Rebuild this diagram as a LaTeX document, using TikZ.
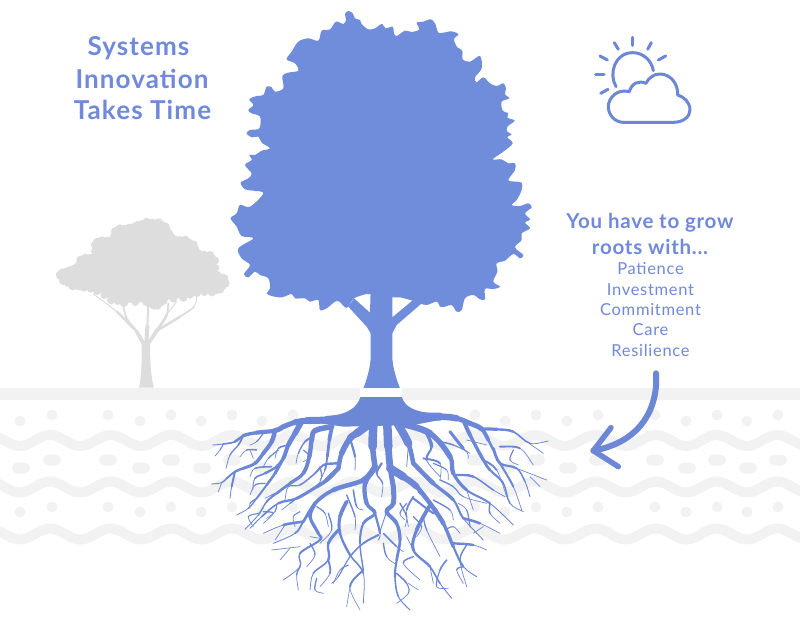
\documentclass[tikz,border=0pt]{standalone}
\usepackage{fontspec}
\setmainfont{Lato}
\newfontfamily\headfont[LetterSpace=4.2]{Lato}
\newfontfamily\subfont[LetterSpace=3.7]{Lato}
\newfontfamily\listfont[LetterSpace=4.2]{Lato}
\definecolor{bluet}{HTML}{6F8DDB}
\definecolor{blueroot}{HTML}{6C87D6}
\definecolor{bluetext}{HTML}{7089DB}
\definecolor{soil}{HTML}{F2F2F2}
\definecolor{greytree}{HTML}{DDDDDD}
\newcommand\tapseg[3]{%
  \draw[line width=#1pt] (\tax,\tay) .. controls ({\tax+(\tbx-\tzx)/6},{\tay+(\tby-\tzy)/6}) and ({\tbx-(#2-\tax)/6},{\tby-(#3-\tay)/6}) .. (\tbx,\tby);}
\newcommand\tap[3]{%
  \foreach \pp [count=\nn] in {#3} {\global\let\tapn\nn}%
  \foreach \xx/\yy [count=\ii] in {#3} {%
    \ifnum\ii=1
      \xdef\tax{\xx}\xdef\tay{\yy}\xdef\tzx{\xx}\xdef\tzy{\yy}%
    \else\ifnum\ii=2
      \xdef\tbx{\xx}\xdef\tby{\yy}%
    \else
      \pgfmathsetmacro\ww{#1+(#2-#1)*(\ii-3)/(\tapn-2)}%
      \tapseg{\ww}{\xx}{\yy}%
      \xdef\tzx{\tax}\xdef\tzy{\tay}\xdef\tax{\tbx}\xdef\tay{\tby}\xdef\tbx{\xx}\xdef\tby{\yy}%
    \fi\fi}%
  \tapseg{#2}{\tbx}{\tby}}
\tikzset{
  wave/.style={draw=soil,line width=10pt,line cap=butt},
  rootline/.style={draw=blueroot,line cap=round,line join=round},
  greyline/.style={draw=greytree,line cap=round,line join=round},
  icon/.style={draw=blueroot,line width=3pt,line cap=round,line join=round},
  headtext/.style={text=bluetext,font=\fontsize{26}{26}\selectfont\headfont\bfseries,anchor=center},
  subhead/.style={text=bluetext,font=\fontsize{20.5}{21}\selectfont\subfont\bfseries,anchor=center},
  listtext/.style={text=bluetext,font=\fontsize{16.5}{17}\selectfont\listfont,anchor=center}
}
\begin{document}
\begin{tikzpicture}[x=1pt,y=-1pt]
\useasboundingbox (0,0) rectangle (800,626);
\fill[white] (0,0) rectangle (800,626);
% soil
\fill[soil] (0,388) rectangle (800,400);
\foreach \yy in {440.5,487,534}{
  \draw[wave] plot[domain=-10:810,samples=160,smooth] (\x,{\yy-5.5*cos((\x-50)/60.6*360)});
}
\foreach \xx in {20,140,201,262,505,567,686,747}{
  \fill[soil] (\xx,421) circle (5.4);
  \fill[soil] (\xx,512) circle (5.4);
  \fill[soil,rounded corners=5.5pt] (\xx-8,462.5) rectangle (\xx+10,473.5);
}
\foreach \xx in {52,108,171,232,293,475,536,598,655,717,778}{
  \fill[soil] (\xx,415) circle (5.4);
  \fill[soil] (\xx,507) circle (5.4);
  \fill[soil,rounded corners=5.5pt] (\xx-9,454.5) rectangle (\xx+9,465.5);
}
% small grey tree
\begin{scope}[xshift=40pt,yshift=-200pt,scale=1/3]
 \begin{scope}[greyline]
  \tap{4}{2}{318/445,322/380,325/310}
  \tap{3.6}{1.8}{315/440,290/395,262/360,250/320}
  \tap{2.5}{1}{280/385,230/335,160/282}
  \tap{3.5}{1.8}{325/430,355/385,380/345,385/310}
  \tap{2.5}{1}{345/395,420/350,462/320,470/290}
  \tap{1.5}{1}{375/350,410/305}
 \end{scope}
 \fill[greytree] (297,563) .. controls (305,530) and (305,480) .. (305,430) -- (330,420) .. controls (330,480) and (332,530) .. (342,563) -- cycle;
 \fill[greytree] plot[smooth cycle,tension=0.6] coordinates {(60,225)(68,218)(88,212)(104,206)(118,195)(122,180)(136,174)(162,172)(166,135)(172,126)(186,122)(218,120)(226,94)(240,86)(268,84)(292,76)(320,66)(356,68)(376,80)(386,100)(402,118)(436,120)(460,134)(474,160)(510,166)(524,182)(530,225)(552,235)(556,250)(540,268)(516,276)(470,278)(430,292)(370,302)(352,316)(342,316)(320,306)(252,308)(214,300)(172,272)(132,262)(98,258)(70,242)};
 \foreach \xx/\yy [remember=\xx as \px (initially 70),remember=\yy as \py (initially 242)] in {60/225,68/218,88/212,104/206,118/195,122/180,136/174,162/172,166/135,172/126,186/122,218/120,226/94,240/86,268/84,292/76,320/66,356/68,376/80,386/100,402/118,436/120,460/134,474/160,510/166,524/182,530/225,552/235,556/250,540/268,516/276,470/278,430/292,370/302,352/316,342/316,320/306,252/308,214/300,172/272,132/262,98/258,70/242}{
  \fill[greytree] (\xx,\yy) circle (13);
  \fill[greytree] ({(\xx+\px)/2},{(\yy+\py)/2}) circle (11);
 }
\end{scope}
% big tree crown
\begin{scope}[xshift=220pt,yshift=0pt,scale=1/3]
 \fill[bluet] plot[smooth cycle,tension=0.55] coordinates {
 (385,33)(398,40)(405,55)(420,60)(425,72)(445,88)(465,85)(485,72)(497,85)(518,80)(522,100)(530,108)(555,92)(575,96)(598,88)(590,68)(610,65)(632,58)(645,70)(655,98)(670,98)(695,94)(715,103)(702,118)(712,142)(727,152)(728,178)(750,185)(780,168)(785,205)(765,232)(770,247)(790,232)(810,250)(830,258)(850,250)(858,265)(855,283)(868,295)(845,305)(848,332)(865,340)(862,353)(884,362)(862,380)(862,395)(875,403)(862,412)(878,430)(850,455)(818,478)(845,478)(865,490)(885,490)(885,510)(865,540)(885,545)(905,548)(905,570)(890,600)
 (875,615)(900,618)(925,610)(935,622)(915,640)(930,658)(915,668)(930,685)(905,700)(905,720)(885,742)(910,765)(900,775)(880,762)(855,782)(830,790)(832,815)(820,845)(840,860)(820,867)(795,867)(795,898)(780,898)(760,885)(735,895)(725,930)(710,935)(695,915)(675,920)(660,920)(650,905)(620,915)(600,910)(577,902)(540,892)(517,892)(450,883)(440,882)(402,895)(385,920)(375,922)(358,905)(345,905)(320,925)(300,930)(295,900)(270,905)(255,895)(225,895)(215,882)(185,892)(155,888)(140,880)(150,865)(145,835)(120,825)(105,815)(85,832)(72,822)(90,795)(65,775)(55,745)(100,715)(65,708)(50,680)(32,655)(50,640)(60,615)(90,620)(130,580)
 (100,572)(75,568)(62,548)(85,535)(95,520)(75,495)(95,480)(88,465)(105,465)(125,452)(150,445)(125,428)(115,410)(95,412)(80,400)(90,390)(118,385)(120,350)(95,340)(85,330)(100,315)(88,298)(110,288)(130,285)(140,260)(155,262)(165,275)(190,265)(187,228)(205,218)(235,212)(225,190)(200,178)(215,155)(235,125)(265,115)(295,122)(305,92)(330,88)(348,65)(370,72)(378,60)(375,42)};
\end{scope}
% big tree trunk
\begin{scope}[xshift=220pt,yshift=-190pt,scale=1/3]
 \fill[bluet] (452,300) -- (517,300) -- (517,382) -- (577,332) -- (605,340) -- (530,405) -- (517,430) -- (517,500) .. controls (517,530) and (530,570) .. (540,595) -- (430,595) .. controls (440,570) and (452,530) .. (452,500) -- (452,430) -- (440,410) -- (385,350) -- (402,325) -- (450,368) -- cycle;
\end{scope}
% roots
\begin{scope}[xshift=200pt,yshift=-370pt,scale=1/3,rootline]
 \fill[blueroot] (482,80) -- (605,80) .. controls (615,110) and (640,125) .. (700,130) -- (720,150) -- (640,165) -- (430,170) -- (360,160) -- (380,138) .. controls (440,135) and (470,115) .. (482,80) -- cycle;
 % far left
 \tap{8}{5}{450/145,380/150,320/152,285/157,250/170}
 \tap{5}{0.9}{250/170,225/182,170/188,130/197,105/215,70/222,38/225}
 \tap{4.5}{0.9}{225/182,215/215,190/250,165/280,130/295,105/305,80/325,65/338,35/342}
 \tap{1.8}{0.8}{130/197,115/225,90/255,78/295}
 \tap{1.1}{0.7}{70/222,60/240,45/258}
 \tap{1.1}{0.7}{65/338,55/365}
 \tap{2}{0.8}{105/305,95/350,90/385}
 \tap{1.5}{0.7}{170/240,140/240,120/260}
 \tap{1.1}{0.7}{150/240,160/265}
 \tap{1.2}{0.7}{190/190,170/215,150/225}
 % second left
 \tap{5.5}{0.9}{305/155,285/190,265/225,250/265,230/290,195/310,165/325,158/360}
 \tap{3}{0.8}{250/265,225/310,200/345,170/385,145/415,110/435}
 \tap{1.6}{0.7}{215/290,165/295,150/320}
 \tap{1.6}{0.7}{265/225,235/235,225/265}
 \tap{1.3}{0.7}{195/340,165/345,150/375}
 \tap{1.2}{0.7}{170/385,150/400,150/415}
 \tap{1.3}{0.7}{235/240,205/265,190/290}
 % third left
 \tap{5.5}{0.9}{395/170,345/182,335/210,328/260,310/310,270/340,230/370,200/395,175/435,135/478}
 \tap{3.8}{0.8}{395/175,388/210,382/260,375/300,360/330}
 \tap{2}{0.7}{340/200,315/215,295/250,288/280}
 \tap{2.4}{0.7}{410/280,370/285,345/310,300/345,265/350,255/390}
 \tap{1.3}{0.7}{360/290,365/320,355/345}
 \tap{1.2}{0.7}{310/240,330/260,310/275}
 \tap{1.3}{0.7}{190/425,220/430,190/460}
 \tap{1.2}{0.7}{240/365,215/375,195/385}
 \tap{1.1}{0.7}{175/430,145/440,160/470}
 % big left
 \tap{8}{4.5}{505/165,470/190,450/205,425/250,415/295}
 \tap{4.5}{0.9}{415/295,380/330,350/350,290/385,235/400,185/440,150/475}
 \tap{2.2}{0.8}{450/205,465/260,465/300}
 \tap{1.4}{0.7}{290/385,270/400,245/420}
 \tap{1.2}{0.7}{230/405,225/425,200/445}
 % centre left
 \tap{8.5}{5.5}{520/165,518/230,525/290}
 \tap{5.5}{0.9}{525/290,490/330,400/360,345/400,310/455,285/490,220/520}
 \tap{2.6}{0.8}{310/455,250/465,190/490}
 \tap{1.4}{0.7}{255/465,225/510}
 \tap{3.8}{0.8}{345/400,330/440,355/490,360/510,300/550,300/590,250/630}
 \tap{2}{0.7}{300/530,215/540}
 \tap{1.4}{0.7}{270/535,240/570}
 \tap{1.4}{0.7}{300/590,290/615,295/660}
 \tap{3.8}{0.8}{440/395,420/440,420/490,450/555,490/610,490/700}
 \tap{3}{0.8}{415/480,385/520,385/570,340/610,330/660}
 \tap{1.6}{0.7}{360/505,330/500}
 \tap{1.8}{0.7}{385/570,390/610,360/650}
 \tap{2}{0.6}{490/600,450/650,480/720}
 \tap{1.3}{0.6}{450/650,440/710}
 \tap{1.3}{0.7}{350/625,345/660,370/670}
 \tap{1.4}{0.7}{385/430,395/480,360/520}
 \tap{1.3}{0.7}{330/520,345/555,320/590}
 \tap{1.2}{0.7}{350/410,375/430,385/470}
 \tap{1.1}{0.7}{445/585,420/600,400/640}
 \tap{1.1}{0.7}{300/425,280/440,285/470}
 % centre
 \tap{5}{1.4}{525/295,495/340,500/400,525/430,490/460,480/520,490/600}
 \tap{2.2}{0.9}{525/430,540/490,535/510}
 \tap{2}{0.7}{535/495,490/520,450/560,415/620,395/640}
 \tap{1.6}{0.7}{460/360,470/410,490/420}
 \tap{1.4}{0.7}{440/375,465/440,465/480}
 \tap{8.5}{5}{562/165,565/230,570/290,580/350}
 \tap{5}{1}{580/350,580/400,560/425,590/460,600/510,590/570,585/620,595/680,630/720}
 \tap{2.2}{0.9}{560/425,538/490}
 \tap{2.2}{0.7}{545/280,530/310,548/340,545/380}
 \tap{1.6}{0.7}{590/610,620/640,625/670,590/700}
 \tap{1.6}{0.7}{550/490,590/530,610/545}
 \tap{1.4}{0.7}{550/520,560/560,590/585}
 \tap{1.3}{0.6}{625/640,655/660}
 \tap{1.4}{0.7}{600/400,620/440,615/470}
 \tap{1.2}{0.7}{620/400,600/430,615/450}
 % centre right
 \tap{8}{4.5}{570/295,610/320,650/350,690/400}
 \tap{4.5}{0.9}{690/400,730/460,760/530,790/590,830/620}
 \tap{3.8}{0.9}{690/405,650/480,640/540,690/590,720/640,755/685}
 \tap{1.4}{0.7}{640/540,620/500}
 \tap{1.6}{0.7}{690/590,700/640}
 \tap{1.6}{0.7}{740/570,720/600,710/650,745/655}
 \tap{2.4}{0.7}{760/520,820/525,860/540}
 \tap{1.4}{0.7}{800/525,780/570,800/650}
 \tap{1.3}{0.7}{790/590,770/600,790/640}
 \tap{1.4}{0.7}{640/560,610/580,660/630}
 \tap{1.3}{0.7}{670/440,680/480,720/560}
 \tap{1.2}{0.7}{640/440,665/470,650/500}
 \tap{1.1}{0.7}{735/480,760/470,780/490}
 % big right
 \tap{8}{4.5}{592/160,625/220,640/280}
 \tap{4.5}{0.9}{640/280,700/340,760/390,790/445,850/510}
 \tap{2.6}{0.7}{790/445,840/460,900/490}
 \tap{1.3}{0.7}{850/470,820/490}
 \tap{2.6}{0.8}{625/230,620/290}
 \tap{1.8}{0.7}{640/380,620/420,625/470}
 \tap{2}{0.7}{640/385,700/430,725/440}
 \tap{1.8}{0.7}{655/365,710/420,715/450}
 \tap{1.4}{0.7}{700/390,750/420,760/450}
 \tap{1.2}{0.7}{810/470,800/420,775/400}
 % right 2
 \tap{6.5}{0.9}{600/160,690/190,750/260,760/310,800/360,870/400,940/465}
 \tap{3.4}{0.7}{680/190,695/230,680/270,720/320}
 \tap{1.9}{0.7}{670/265,720/280,720/330}
 \tap{2.4}{0.7}{770/315,820/320,880/360,915/380}
 \tap{1.6}{0.7}{870/400,870/430,900/460}
 \tap{1.4}{0.7}{800/360,820/420}
 \tap{1.4}{0.7}{720/330,760/350,790/380,860/400}
 \tap{1.5}{0.7}{720/215,760/225,800/245,805/265}
 \tap{1.2}{0.7}{700/280,740/300,745/330}
 % right 3
 \tap{8}{5}{640/140,720/140,770/145,810/160}
 \tap{5}{2.5}{810/160,845/177,865/210,880/240}
 \tap{2.8}{0.9}{880/235,900/280,950/295,975/335,990/380}
 \tap{2}{0.7}{900/280,940/350,965/420}
 \tap{1.8}{0.7}{950/295,1040/330}
 \tap{1.3}{0.7}{990/320,1020/350}
 \tap{3.2}{0.8}{845/177,890/178,940/185,990/220,1045/213}
 \tap{1.4}{0.7}{990/222,1030/250}
 \tap{1.9}{0.7}{900/230,960/235,1000/285}
 \tap{4}{0.8}{790/150,810/195,850/270,870/300,910/340,930/400,970/425}
 \tap{1.9}{0.7}{850/270,890/300,920/380}
 \tap{3}{0.7}{750/185,790/235,810/250}
 \tap{1.6}{0.7}{800/210,860/225}
 \tap{1.3}{0.7}{830/240,845/265}
 \tap{1.2}{0.7}{940/240,930/270,955/285}
\end{scope}
% white gap in the trunk
\fill[white] (360,388) rectangle (402,397);
\fill[blueroot] (360.5,397) rectangle (401.5,400);
% sun and cloud icon
\begin{scope}[xshift=580pt,yshift=-30pt,scale=1/3,icon]
 \draw (108,170) .. controls (85,130) and (105,68) .. (158,68) .. controls (190,68) and (215,92) .. (220,122);
 \draw (158,22) -- (158,46);
 \draw (103,38) -- (115,58);
 \draw (214,38) -- (203,58);
 \draw (60,78) -- (82,90);
 \draw (257,78) -- (235,90);
 \draw (47,134) -- (72,134);
 \draw (62,190) -- (84,178);
 \draw (130,277) -- (280,277) .. controls (310,277) and (330,260) .. (330,240) .. controls (330,215) and (310,200) .. (293,195) .. controls (295,160) and (270,132) .. (240,132) .. controls (220,132) and (205,145) .. (198,160) .. controls (175,150) and (155,160) .. (148,185) .. controls (110,175) and (85,205) .. (85,230) .. controls (85,255) and (105,277) .. (130,277) -- cycle;
\end{scope}
% curved arrow
\begin{scope}[xshift=550pt,yshift=-205pt,scale=1/3]
 \draw[draw=blueroot,line width=6pt,line cap=round,line join=round] (318,505) .. controls (325,600) and (280,710) .. (130,737);
 \draw[draw=blueroot,line width=5.5pt,line cap=round,line join=round] (183,668) -- (130,737) -- (205,785);
\end{scope}
% texts
\node[headtext] (t1) at (138.5,48) {Systems};
\node[headtext] (t2) at (142,79) {Innovation};
\node[headtext] (t3) at (142.5,110) {Takes Time};
\node[subhead] (s1) at (650,223) {You have to grow};
\node[subhead] (s2) at (650,247) {roots with...};
\node[listtext] (l1) at (650.5,268.5) {Patience};
\node[listtext] (l2) at (650.5,289.5) {Investment};
\node[listtext] (l3) at (650.5,310) {Commitment};
\node[listtext] (l4) at (650.5,330) {Care};
\node[listtext] (l5) at (650.5,350.5) {Resilience};
\end{tikzpicture}
\end{document}
